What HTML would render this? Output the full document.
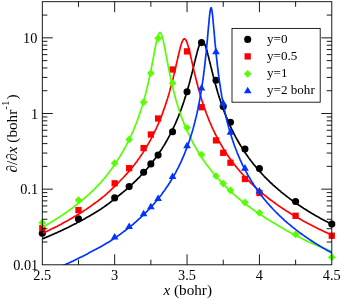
<!DOCTYPE html>
<html><head><meta charset="utf-8"><title>plot</title>
<style>
html,body{margin:0;padding:0;background:#fff;}
svg{display:block;}
text{font-family:"Liberation Serif",serif;fill:#000;}
.t{font-size:14.3px;}
.l{font-size:13.1px;}
.a{font-size:15.2px;}
</style></head><body>
<svg width="342" height="300" viewBox="0 0 342 300">
<rect width="342" height="300" fill="#fff"/>
<defs><clipPath id="c"><rect x="42.30" y="1.70" width="289.50" height="263.10"/></clipPath></defs>
<path clip-path="url(#c)" fill="none" stroke-width="1.7" stroke-linejoin="round" d="M42.3 238.9L43.3 238.5L44.2 238.1L45.2 237.7L46.2 237.3L47.1 236.9L48.1 236.5L49.1 236.1L50.0 235.6L51.0 235.2L52.0 234.8L52.9 234.4L53.9 234.0L54.8 233.5L55.8 233.1L56.8 232.7L57.7 232.2L58.7 231.8L59.7 231.4L60.6 230.9L61.6 230.5L62.6 230.0L63.5 229.6L64.5 229.1L65.5 228.6L66.4 228.2L67.4 227.7L68.4 227.2L69.3 226.8L70.3 226.3L71.3 225.8L72.2 225.3L73.2 224.8L74.1 224.3L75.1 223.9L76.1 223.4L77.0 222.8L78.0 222.3L79.0 221.8L79.9 221.3L80.9 220.8L81.9 220.3L82.8 219.8L83.8 219.2L84.8 218.7L85.7 218.1L86.7 217.6L87.7 217.1L88.6 216.5L89.6 215.9L90.5 215.4L91.5 214.8L92.5 214.2L93.4 213.7L94.4 213.1L95.4 212.5L96.3 211.9L97.3 211.3L98.3 210.7L99.2 210.1L100.2 209.5L101.2 208.9L102.1 208.2L103.1 207.6L104.1 206.9L105.0 206.2L106.0 205.5L107.0 204.8L107.9 204.1L108.9 203.4L109.9 202.7L110.8 201.9L111.8 201.2L112.7 200.4L113.7 199.7L114.7 198.9L115.6 198.1L116.6 197.4L117.6 196.6L118.5 195.8L119.5 195.0L120.5 194.3L121.4 193.5L122.4 192.7L123.4 191.9L124.3 191.1L125.3 190.3L126.3 189.5L127.2 188.6L128.2 187.8L129.2 186.9L130.1 186.1L131.1 185.2L132.0 184.3L133.0 183.4L134.0 182.5L134.9 181.6L135.9 180.7L136.9 179.7L137.8 178.7L138.8 177.8L139.8 176.8L140.7 175.8L141.7 174.7L142.7 173.7L143.6 172.7L144.6 171.6L145.6 170.5L146.5 169.4L147.5 168.3L148.4 167.1L149.4 166.0L150.4 164.8L151.3 163.6L152.3 162.3L153.3 161.1L154.2 159.8L155.2 158.5L156.2 157.2L157.1 155.9L158.1 154.5L159.1 153.1L160.0 151.6L161.0 150.2L162.0 148.7L162.9 147.1L163.9 145.6L164.9 144.0L165.8 142.3L166.8 140.7L167.8 138.9L168.7 137.2L169.7 135.4L170.6 133.5L171.6 131.6L172.6 129.6L173.5 127.6L174.5 125.5L175.5 123.4L176.4 121.2L177.4 118.9L178.4 116.5L179.3 114.1L180.3 111.6L180.5 111.0L180.7 110.6L180.8 110.2L181.0 109.8L181.1 109.4L181.3 109.0L181.4 108.6L181.5 108.2L181.7 107.8L181.8 107.4L182.0 107.0L182.1 106.6L182.2 106.3L182.3 106.2L182.4 105.8L182.6 105.4L182.7 104.9L182.9 104.5L183.0 104.1L183.1 103.7L183.2 103.5L183.3 103.3L183.4 102.8L183.6 102.4L183.7 102.0L183.9 101.5L184.0 101.1L184.2 100.7L184.3 100.2L184.4 99.8L184.6 99.3L184.7 98.9L184.9 98.4L185.0 98.0L185.1 97.7L185.2 97.5L185.3 97.1L185.5 96.6L185.6 96.1L185.7 95.7L185.9 95.2L186.0 94.7L186.1 94.6L186.2 94.3L186.3 93.8L186.5 93.3L186.6 92.8L186.8 92.3L186.9 91.9L187.1 91.4L187.2 90.9L187.3 90.4L187.5 89.9L187.6 89.4L187.8 88.9L187.9 88.4L188.0 88.0L188.1 87.9L188.2 87.4L188.4 86.8L188.5 86.3L188.6 85.8L188.8 85.3L188.9 84.8L189.0 84.6L189.1 84.2L189.2 83.7L189.4 83.2L189.5 82.6L189.7 82.1L189.8 81.6L189.9 81.0L190.1 80.5L190.2 79.9L190.4 79.4L190.5 78.8L190.7 78.3L190.8 77.7L190.9 77.3L191.0 77.2L191.1 76.6L191.2 76.0L191.4 75.5L191.5 74.9L191.7 74.3L191.8 73.7L191.9 73.6L192.0 73.2L192.1 72.6L192.3 72.0L192.4 71.4L192.6 70.9L192.7 70.3L192.8 69.7L193.0 69.1L193.1 68.5L193.3 67.9L193.4 67.3L193.6 66.7L193.7 66.1L193.8 65.7L193.9 65.5L194.0 64.9L194.1 64.3L194.3 63.8L194.4 63.2L194.6 62.6L194.7 62.0L194.8 61.8L194.9 61.4L195.0 60.8L195.2 60.2L195.3 59.6L195.4 59.0L195.6 58.4L195.7 57.8L195.9 57.3L196.0 56.7L196.2 56.1L196.3 55.5L196.5 55.0L196.6 54.4L196.7 54.0L196.7 53.8L196.9 53.3L197.0 52.7L197.2 52.2L197.3 51.7L197.5 51.1L197.6 50.6L197.7 50.4L197.8 50.1L197.9 49.6L198.1 49.1L198.2 48.6L198.3 48.1L198.5 47.7L198.6 47.2L198.8 46.8L198.9 46.4L199.1 45.9L199.2 45.5L199.4 45.2L199.5 44.8L199.6 44.5L199.6 44.4L199.8 44.1L199.9 43.8L200.1 43.4L200.2 43.1L200.4 42.9L200.5 42.6L200.6 42.5L200.7 42.4L200.8 42.2L200.9 42.0L201.1 41.8L201.2 41.6L201.4 41.5L201.5 41.4L201.7 41.3L201.8 41.2L202.0 41.1L202.1 41.1L202.2 41.1L202.4 41.1L202.5 41.1L202.5 41.1L202.7 41.2L202.8 41.3L203.0 41.4L203.1 41.5L203.3 41.6L203.4 41.8L203.5 41.8L203.6 42.0L203.7 42.2L203.8 42.4L204.0 42.6L204.1 42.9L204.3 43.1L204.4 43.4L204.6 43.8L204.7 44.1L204.9 44.4L205.0 44.8L205.1 45.2L205.3 45.5L205.4 45.8L205.4 45.9L205.6 46.4L205.7 46.8L205.9 47.2L206.0 47.7L206.2 48.1L206.3 48.6L206.3 48.8L206.4 49.1L206.6 49.6L206.7 50.1L206.9 50.6L207.0 51.1L207.2 51.7L207.3 52.2L207.5 52.7L207.6 53.3L207.7 53.8L207.9 54.4L208.0 55.0L208.2 55.5L208.3 55.9L208.3 56.1L208.5 56.7L208.6 57.3L208.8 57.8L208.9 58.4L209.1 59.0L209.2 59.6L209.2 59.8L209.3 60.2L209.5 60.8L209.6 61.4L209.8 62.0L209.9 62.6L210.1 63.2L210.2 63.8L210.4 64.3L210.5 64.9L210.6 65.5L210.8 66.1L210.9 66.7L211.1 67.3L211.2 67.7L211.2 67.9L211.4 68.5L211.5 69.1L211.7 69.7L211.8 70.3L211.9 70.9L212.1 71.4L212.1 71.6L212.2 72.0L212.4 72.6L212.5 73.2L212.7 73.7L212.8 74.3L213.0 74.9L213.1 75.5L213.2 76.0L213.4 76.6L213.5 77.2L213.7 77.7L213.8 78.3L214.0 78.8L214.1 79.2L214.1 79.4L214.3 79.9L214.4 80.5L214.6 81.0L214.7 81.6L214.8 82.1L215.0 82.6L215.0 82.8L215.1 83.2L215.3 83.7L215.4 84.2L215.6 84.8L215.7 85.3L215.9 85.8L216.0 86.3L216.1 86.8L216.3 87.4L216.4 87.9L216.6 88.4L216.7 88.9L216.9 89.4L217.0 89.7L217.0 89.9L217.2 90.4L217.3 90.9L217.4 91.4L217.6 91.9L217.7 92.3L217.9 92.8L217.9 93.0L218.0 93.3L218.2 93.8L218.3 94.3L218.5 94.7L218.6 95.2L218.8 95.7L218.9 96.1L219.0 96.6L219.2 97.1L219.3 97.5L219.5 98.0L219.6 98.4L219.8 98.9L219.9 99.2L219.9 99.3L220.1 99.8L220.2 100.2L220.3 100.7L220.5 101.1L220.6 101.5L220.8 102.0L220.8 102.1L220.9 102.4L221.1 102.8L221.2 103.3L221.4 103.7L221.5 104.1L221.6 104.5L221.8 104.9L221.9 105.4L222.1 105.8L222.2 106.2L222.4 106.6L222.5 107.0L222.7 107.4L222.8 107.7L222.8 107.8L222.9 108.2L223.1 108.6L223.2 109.0L223.4 109.4L223.5 109.8L223.7 110.2L223.7 110.3L223.8 110.6L224.0 111.0L224.7 112.9L225.7 115.3L226.6 117.7L227.6 120.0L228.5 122.3L229.5 124.4L230.5 126.6L231.4 128.6L232.4 130.6L233.4 132.5L234.3 134.4L235.3 136.3L236.3 138.1L237.2 139.8L238.2 141.5L239.2 143.2L240.1 144.8L241.1 146.4L242.1 147.9L243.0 149.4L244.0 150.9L244.9 152.4L245.9 153.8L246.9 155.2L247.8 156.5L248.8 157.9L249.8 159.2L250.7 160.5L251.7 161.7L252.7 163.0L253.6 164.2L254.6 165.4L255.6 166.5L256.5 167.7L257.5 168.8L258.5 169.9L259.4 171.0L260.4 172.1L261.4 173.2L262.3 174.2L263.3 175.3L264.2 176.3L265.2 177.3L266.2 178.3L267.1 179.2L268.1 180.2L269.1 181.1L270.0 182.1L271.0 183.0L272.0 183.9L272.9 184.8L273.9 185.6L274.9 186.5L275.8 187.4L276.8 188.2L277.8 189.1L278.7 189.9L279.7 190.7L280.7 191.5L281.6 192.3L282.6 193.1L283.6 193.9L284.5 194.6L285.5 195.4L286.4 196.1L287.4 196.9L288.4 197.6L289.3 198.3L290.3 199.1L291.3 199.8L292.2 200.5L293.2 201.2L294.2 201.9L295.1 202.5L296.1 203.2L297.1 203.9L298.0 204.5L299.0 205.2L300.0 205.8L300.9 206.5L301.9 207.1L302.8 207.7L303.8 208.4L304.8 209.0L305.7 209.6L306.7 210.2L307.7 210.8L308.6 211.4L309.6 212.0L310.6 212.6L311.5 213.2L312.5 213.7L313.5 214.3L314.4 214.9L315.4 215.4L316.4 216.0L317.3 216.5L318.3 217.1L319.3 217.6L320.2 218.2L321.2 218.7L322.1 219.2L323.1 219.7L324.1 220.3L325.0 220.8L326.0 221.3L327.0 221.8L327.9 222.3L328.9 222.8L329.9 223.3L330.8 223.8L331.8 224.3" stroke="#000000"/>
<g>
<circle cx="42.30" cy="233.20" r="3.55" fill="#000000"/>
<circle cx="78.49" cy="218.90" r="3.55" fill="#000000"/>
<circle cx="114.67" cy="197.90" r="3.55" fill="#000000"/>
<circle cx="129.15" cy="186.60" r="3.55" fill="#000000"/>
<circle cx="143.63" cy="172.20" r="3.55" fill="#000000"/>
<circle cx="150.86" cy="163.90" r="3.55" fill="#000000"/>
<circle cx="158.10" cy="155.10" r="3.55" fill="#000000"/>
<circle cx="172.57" cy="131.70" r="3.55" fill="#000000"/>
<circle cx="187.05" cy="91.80" r="3.55" fill="#000000"/>
<circle cx="201.53" cy="42.60" r="3.55" fill="#000000"/>
<circle cx="216.00" cy="80.30" r="3.55" fill="#000000"/>
<circle cx="223.24" cy="106.60" r="3.55" fill="#000000"/>
<circle cx="230.47" cy="122.20" r="3.55" fill="#000000"/>
<circle cx="244.95" cy="149.00" r="3.55" fill="#000000"/>
<circle cx="259.43" cy="168.60" r="3.55" fill="#000000"/>
<circle cx="295.61" cy="201.50" r="3.55" fill="#000000"/>
<circle cx="331.80" cy="224.10" r="3.55" fill="#000000"/>
</g>
<path clip-path="url(#c)" fill="none" stroke-width="1.7" stroke-linejoin="round" d="M42.3 233.4L43.3 233.0L44.2 232.5L45.2 232.1L46.2 231.6L47.1 231.2L48.1 230.7L49.1 230.2L50.0 229.8L51.0 229.3L52.0 228.8L52.9 228.3L53.9 227.9L54.8 227.4L55.8 226.9L56.8 226.4L57.7 225.9L58.7 225.4L59.7 224.9L60.6 224.4L61.6 223.9L62.6 223.3L63.5 222.8L64.5 222.3L65.5 221.8L66.4 221.2L67.4 220.7L68.4 220.2L69.3 219.6L70.3 219.1L71.3 218.5L72.2 217.9L73.2 217.4L74.1 216.8L75.1 216.2L76.1 215.7L77.0 215.1L78.0 214.5L79.0 213.9L79.9 213.3L80.9 212.7L81.9 212.1L82.8 211.5L83.8 210.8L84.8 210.2L85.7 209.6L86.7 208.9L87.7 208.3L88.6 207.6L89.6 207.0L90.5 206.3L91.5 205.6L92.5 204.9L93.4 204.2L94.4 203.5L95.4 202.8L96.3 202.1L97.3 201.4L98.3 200.7L99.2 200.0L100.2 199.2L101.2 198.5L102.1 197.7L103.1 196.9L104.1 196.1L105.0 195.3L106.0 194.4L107.0 193.6L107.9 192.7L108.9 191.8L109.9 191.0L110.8 190.1L111.8 189.1L112.7 188.2L113.7 187.3L114.7 186.4L115.6 185.4L116.6 184.4L117.6 183.5L118.5 182.5L119.5 181.5L120.5 180.5L121.4 179.5L122.4 178.5L123.4 177.5L124.3 176.5L125.3 175.4L126.3 174.4L127.2 173.3L128.2 172.2L129.2 171.1L130.1 169.9L131.1 168.8L132.0 167.6L133.0 166.4L134.0 165.2L134.9 164.0L135.9 162.7L136.9 161.4L137.8 160.1L138.8 158.8L139.8 157.4L140.7 156.0L141.7 154.6L142.7 153.1L143.6 151.6L144.6 150.1L145.6 148.6L146.5 147.0L147.5 145.3L148.4 143.7L149.4 142.0L150.4 140.2L151.3 138.4L152.3 136.6L153.3 134.7L154.2 132.7L155.2 130.7L156.2 128.6L157.1 126.5L158.1 124.3L159.1 122.0L160.0 119.7L161.0 117.3L162.0 114.8L162.7 112.7L162.9 112.3L162.9 112.2L163.0 111.9L163.2 111.5L163.3 111.1L163.5 110.7L163.6 110.3L163.7 109.9L163.9 109.5L164.0 109.1L164.2 108.7L164.3 108.3L164.5 107.9L164.6 107.5L164.8 107.0L164.9 106.7L164.9 106.6L165.0 106.2L165.2 105.8L165.3 105.3L165.5 104.9L165.6 104.5L165.8 104.0L165.8 103.9L165.9 103.6L166.1 103.1L166.2 102.7L166.4 102.2L166.5 101.8L166.6 101.3L166.8 100.9L166.9 100.4L167.1 100.0L167.2 99.5L167.4 99.0L167.5 98.6L167.7 98.1L167.8 97.8L167.8 97.6L167.9 97.1L168.1 96.7L168.2 96.2L168.4 95.7L168.5 95.2L168.7 94.7L168.7 94.5L168.8 94.2L169.0 93.7L169.1 93.2L169.2 92.7L169.4 92.2L169.5 91.7L169.7 91.2L169.8 90.7L170.0 90.2L170.1 89.6L170.3 89.1L170.4 88.6L170.5 88.1L170.6 87.7L170.7 87.5L170.8 87.0L171.0 86.4L171.1 85.9L171.3 85.4L171.4 84.8L171.6 84.3L171.6 84.1L171.7 83.7L171.9 83.1L172.0 82.6L172.1 82.0L172.3 81.5L172.4 80.9L172.6 80.3L172.7 79.7L172.9 79.2L173.0 78.6L173.2 78.0L173.3 77.4L173.4 76.8L173.5 76.4L173.6 76.2L173.7 75.6L173.9 75.0L174.0 74.4L174.2 73.8L174.3 73.2L174.5 72.6L174.5 72.4L174.6 72.0L174.7 71.4L174.9 70.7L175.0 70.1L175.2 69.5L175.3 68.9L175.5 68.3L175.6 67.6L175.8 67.0L175.9 66.4L176.0 65.7L176.2 65.1L176.3 64.5L176.4 64.0L176.5 63.8L176.6 63.2L176.8 62.6L176.9 61.9L177.1 61.3L177.2 60.6L177.4 60.0L177.4 59.8L177.5 59.4L177.6 58.7L177.8 58.1L177.9 57.5L178.1 56.8L178.2 56.2L178.4 55.6L178.5 54.9L178.7 54.3L178.8 53.7L178.9 53.1L179.1 52.5L179.2 51.9L179.3 51.5L179.4 51.3L179.5 50.7L179.7 50.1L179.8 49.5L180.0 49.0L180.1 48.4L180.2 47.9L180.3 47.7L180.4 47.3L180.5 46.8L180.7 46.3L180.8 45.8L181.0 45.3L181.1 44.8L181.3 44.3L181.4 43.9L181.5 43.4L181.7 43.0L181.8 42.6L182.0 42.2L182.1 41.8L182.2 41.6L182.3 41.5L182.4 41.2L182.6 40.9L182.7 40.6L182.9 40.3L183.0 40.0L183.1 39.8L183.2 39.7L183.3 39.6L183.4 39.4L183.6 39.3L183.7 39.1L183.9 39.0L184.0 38.9L184.2 38.9L184.3 38.8L184.4 38.8L184.6 38.8L184.7 38.9L184.9 38.9L185.0 39.0L185.1 39.1L185.2 39.1L185.3 39.3L185.5 39.4L185.6 39.6L185.7 39.8L185.9 40.0L186.0 40.3L186.1 40.4L186.2 40.6L186.3 40.9L186.5 41.2L186.6 41.5L186.8 41.8L186.9 42.2L187.1 42.6L187.2 43.0L187.3 43.4L187.5 43.9L187.6 44.3L187.8 44.8L187.9 45.3L188.0 45.6L188.1 45.8L188.2 46.3L188.4 46.8L188.5 47.3L188.6 47.9L188.8 48.4L188.9 49.0L189.0 49.2L189.1 49.5L189.2 50.1L189.4 50.7L189.5 51.3L189.7 51.9L189.8 52.5L189.9 53.1L190.1 53.7L190.2 54.3L190.4 54.9L190.5 55.6L190.7 56.2L190.8 56.8L190.9 57.3L191.0 57.5L191.1 58.1L191.2 58.7L191.4 59.4L191.5 60.0L191.7 60.6L191.8 61.3L191.9 61.5L192.0 61.9L192.1 62.6L192.3 63.2L192.4 63.8L192.6 64.5L192.7 65.1L192.8 65.7L193.0 66.4L193.1 67.0L193.3 67.6L193.4 68.3L193.6 68.9L193.7 69.5L193.8 69.9L193.9 70.1L194.0 70.7L194.1 71.4L194.3 72.0L194.4 72.6L194.6 73.2L194.7 73.8L194.8 74.0L194.9 74.4L195.0 75.0L195.2 75.6L195.3 76.2L195.4 76.8L195.6 77.4L195.7 78.0L195.9 78.6L196.0 79.2L196.2 79.7L196.3 80.3L196.5 80.9L196.6 81.5L196.7 81.8L196.7 82.0L196.9 82.6L197.0 83.1L197.2 83.7L197.3 84.3L197.5 84.8L197.6 85.4L197.7 85.5L197.8 85.9L197.9 86.4L198.1 87.0L198.2 87.5L198.3 88.1L198.5 88.6L198.6 89.1L198.8 89.6L198.9 90.2L199.1 90.7L199.2 91.2L199.4 91.7L199.5 92.2L199.6 92.5L199.6 92.7L199.8 93.2L199.9 93.7L200.1 94.2L200.2 94.7L200.4 95.2L200.5 95.7L200.6 95.8L200.7 96.2L200.8 96.7L200.9 97.1L201.1 97.6L201.2 98.1L201.4 98.6L201.5 99.0L201.7 99.5L201.8 100.0L202.0 100.4L202.1 100.9L202.2 101.3L202.4 101.8L202.5 102.1L202.5 102.2L202.7 102.7L202.8 103.1L203.0 103.6L203.1 104.0L203.3 104.5L203.4 104.9L203.5 105.0L203.6 105.3L203.7 105.8L203.8 106.2L204.0 106.6L204.1 107.0L204.3 107.5L204.4 107.9L204.6 108.3L204.7 108.7L204.9 109.1L205.0 109.5L205.1 109.9L205.3 110.3L205.4 110.6L205.4 110.7L205.6 111.1L205.7 111.5L205.9 111.9L206.0 112.3L206.2 112.7L206.3 113.2L207.3 115.8L208.3 118.3L209.2 120.6L210.2 123.0L211.2 125.2L212.1 127.4L213.1 129.5L214.1 131.5L215.0 133.5L216.0 135.4L217.0 137.3L217.9 139.1L218.9 140.9L219.9 142.6L220.8 144.3L221.8 146.0L222.8 147.6L223.7 149.2L224.7 150.7L225.7 152.2L226.6 153.7L227.6 155.1L228.5 156.6L229.5 157.9L230.5 159.3L231.4 160.6L232.4 161.9L233.4 163.2L234.3 164.5L235.3 165.7L236.3 166.9L237.2 168.1L238.2 169.3L239.2 170.4L240.1 171.5L241.1 172.6L242.1 173.7L243.0 174.8L244.0 175.9L244.9 176.9L245.9 177.9L246.9 178.9L247.8 179.9L248.8 180.9L249.8 181.9L250.7 182.8L251.7 183.8L252.7 184.7L253.6 185.6L254.6 186.5L255.6 187.4L256.5 188.3L257.5 189.1L258.5 190.0L259.4 190.8L260.4 191.7L261.4 192.5L262.3 193.3L263.3 194.1L264.2 194.9L265.2 195.7L266.2 196.4L267.1 197.2L268.1 198.0L269.1 198.7L270.0 199.5L271.0 200.2L272.0 200.9L272.9 201.6L273.9 202.3L274.9 203.0L275.8 203.7L276.8 204.4L277.8 205.1L278.7 205.8L279.7 206.4L280.7 207.1L281.6 207.7L282.6 208.4L283.6 209.0L284.5 209.7L285.5 210.3L286.4 210.9L287.4 211.5L288.4 212.1L289.3 212.7L290.3 213.3L291.3 213.9L292.2 214.5L293.2 215.1L294.2 215.7L295.1 216.2L296.1 216.8L297.1 217.4L298.0 217.9L299.0 218.5L300.0 219.0L300.9 219.6L301.9 220.1L302.8 220.7L303.8 221.2L304.8 221.7L305.7 222.2L306.7 222.8L307.7 223.3L308.6 223.8L309.6 224.3L310.6 224.8L311.5 225.3L312.5 225.8L313.5 226.3L314.4 226.8L315.4 227.2L316.4 227.7L317.3 228.2L318.3 228.7L319.3 229.2L320.2 229.6L321.2 230.1L322.1 230.5L323.1 231.0L324.1 231.5L325.0 231.9L326.0 232.4L327.0 232.8L327.9 233.2L328.9 233.7L329.9 234.1L330.8 234.6L331.8 235.0" stroke="#ff0000"/>
<g>
<rect x="39.15" y="225.05" width="6.3" height="6.3" fill="#ff0000"/>
<rect x="75.34" y="206.95" width="6.3" height="6.3" fill="#ff0000"/>
<rect x="111.52" y="180.15" width="6.3" height="6.3" fill="#ff0000"/>
<rect x="126.00" y="165.05" width="6.3" height="6.3" fill="#ff0000"/>
<rect x="140.48" y="144.95" width="6.3" height="6.3" fill="#ff0000"/>
<rect x="147.71" y="131.35" width="6.3" height="6.3" fill="#ff0000"/>
<rect x="154.95" y="115.35" width="6.3" height="6.3" fill="#ff0000"/>
<rect x="169.42" y="66.35" width="6.3" height="6.3" fill="#ff0000"/>
<rect x="183.90" y="48.25" width="6.3" height="6.3" fill="#ff0000"/>
<rect x="198.38" y="104.05" width="6.3" height="6.3" fill="#ff0000"/>
<rect x="212.85" y="137.25" width="6.3" height="6.3" fill="#ff0000"/>
<rect x="220.09" y="149.65" width="6.3" height="6.3" fill="#ff0000"/>
<rect x="227.32" y="159.55" width="6.3" height="6.3" fill="#ff0000"/>
<rect x="241.80" y="175.85" width="6.3" height="6.3" fill="#ff0000"/>
<rect x="256.28" y="189.85" width="6.3" height="6.3" fill="#ff0000"/>
<rect x="292.46" y="212.65" width="6.3" height="6.3" fill="#ff0000"/>
<rect x="328.65" y="232.55" width="6.3" height="6.3" fill="#ff0000"/>
</g>
<path clip-path="url(#c)" fill="none" stroke-width="1.7" stroke-linejoin="round" d="M42.3 227.3L43.3 226.8L44.2 226.2L45.2 225.7L46.2 225.1L47.1 224.6L48.1 224.0L49.1 223.4L50.0 222.9L51.0 222.3L52.0 221.7L52.9 221.1L53.9 220.5L54.8 219.9L55.8 219.3L56.8 218.7L57.7 218.1L58.7 217.5L59.7 216.9L60.6 216.2L61.6 215.6L62.6 214.9L63.5 214.3L64.5 213.6L65.5 213.0L66.4 212.3L67.4 211.6L68.4 210.9L69.3 210.2L70.3 209.5L71.3 208.8L72.2 208.1L73.2 207.4L74.1 206.7L75.1 205.9L76.1 205.2L77.0 204.4L78.0 203.7L79.0 202.9L79.9 202.1L80.9 201.3L81.9 200.5L82.8 199.7L83.8 198.9L84.8 198.0L85.7 197.2L86.7 196.3L87.7 195.5L88.6 194.6L89.6 193.7L90.5 192.8L91.5 191.9L92.5 191.0L93.4 190.0L94.4 189.1L95.4 188.1L96.3 187.1L97.3 186.2L98.3 185.1L99.2 184.1L100.2 183.1L101.2 182.0L102.1 180.9L103.1 179.8L104.1 178.7L105.0 177.5L106.0 176.3L107.0 175.1L107.9 173.9L108.9 172.6L109.9 171.3L110.8 170.0L111.8 168.7L112.7 167.3L113.7 165.9L114.7 164.5L115.6 163.1L116.6 161.6L117.6 160.1L118.5 158.6L119.5 157.1L120.5 155.5L121.4 153.9L122.4 152.3L123.4 150.6L124.3 148.9L125.3 147.2L126.3 145.4L127.2 143.5L128.2 141.7L129.2 139.7L130.1 137.7L131.1 135.6L132.0 133.5L133.0 131.3L134.0 129.0L134.9 126.7L135.9 124.2L136.9 121.7L137.8 119.1L138.3 117.9L138.4 117.5L138.6 117.1L138.7 116.7L138.8 116.4L138.8 116.3L139.0 115.9L139.1 115.4L139.3 115.0L139.4 114.6L139.6 114.2L139.7 113.7L139.8 113.6L139.9 113.3L140.0 112.9L140.2 112.4L140.3 112.0L140.4 111.6L140.6 111.1L140.7 110.7L140.9 110.2L141.0 109.8L141.2 109.3L141.3 108.9L141.5 108.4L141.6 107.9L141.7 107.6L141.7 107.5L141.9 107.0L142.0 106.5L142.2 106.0L142.3 105.6L142.5 105.1L142.6 104.6L142.7 104.4L142.8 104.1L142.9 103.6L143.0 103.1L143.2 102.6L143.3 102.1L143.5 101.6L143.6 101.1L143.8 100.6L143.9 100.1L144.1 99.6L144.2 99.0L144.3 98.5L144.5 98.0L144.6 97.6L144.6 97.5L144.8 96.9L144.9 96.4L145.1 95.8L145.2 95.3L145.4 94.7L145.5 94.2L145.6 94.0L145.7 93.6L145.8 93.1L145.9 92.5L146.1 91.9L146.2 91.4L146.4 90.8L146.5 90.2L146.7 89.6L146.8 89.0L147.0 88.4L147.1 87.8L147.2 87.2L147.4 86.6L147.5 86.2L147.5 86.0L147.7 85.4L147.8 84.8L148.0 84.1L148.1 83.5L148.3 82.9L148.4 82.2L148.4 82.0L148.5 81.6L148.7 81.0L148.8 80.3L149.0 79.6L149.1 79.0L149.3 78.3L149.4 77.6L149.6 77.0L149.7 76.3L149.8 75.6L150.0 74.9L150.1 74.2L150.3 73.5L150.4 73.1L150.4 72.8L150.6 72.1L150.7 71.4L150.9 70.7L151.0 70.0L151.2 69.3L151.3 68.5L151.3 68.3L151.4 67.8L151.6 67.1L151.7 66.3L151.9 65.6L152.0 64.8L152.2 64.1L152.3 63.3L152.5 62.6L152.6 61.8L152.7 61.1L152.9 60.3L153.0 59.5L153.2 58.8L153.3 58.2L153.3 58.0L153.5 57.2L153.6 56.4L153.8 55.7L153.9 54.9L154.0 54.1L154.2 53.4L154.2 53.1L154.3 52.6L154.5 51.8L154.6 51.0L154.8 50.3L154.9 49.5L155.1 48.8L155.2 48.0L155.3 47.3L155.5 46.5L155.6 45.8L155.8 45.1L155.9 44.4L156.1 43.6L156.2 43.2L156.2 43.0L156.4 42.3L156.5 41.6L156.7 40.9L156.8 40.3L156.9 39.7L157.1 39.1L157.1 38.9L157.2 38.5L157.4 37.9L157.5 37.4L157.7 36.9L157.8 36.4L158.0 35.9L158.1 35.4L158.2 35.0L158.4 34.6L158.5 34.3L158.7 34.0L158.8 33.7L159.0 33.4L159.1 33.2L159.1 33.2L159.3 33.0L159.4 32.8L159.5 32.7L159.7 32.6L159.8 32.5L160.0 32.5L160.0 32.5L160.1 32.5L160.3 32.6L160.4 32.7L160.6 32.8L160.7 33.0L160.9 33.2L161.0 33.4L161.1 33.7L161.3 34.0L161.4 34.3L161.6 34.6L161.7 35.0L161.9 35.4L162.0 35.7L162.0 35.9L162.2 36.4L162.3 36.9L162.4 37.4L162.6 37.9L162.7 38.5L162.9 39.1L162.9 39.3L163.0 39.7L163.2 40.3L163.3 40.9L163.5 41.6L163.6 42.3L163.7 43.0L163.9 43.6L164.0 44.4L164.2 45.1L164.3 45.8L164.5 46.5L164.6 47.3L164.8 48.0L164.9 48.5L164.9 48.8L165.0 49.5L165.2 50.3L165.3 51.0L165.5 51.8L165.6 52.6L165.8 53.4L165.8 53.6L165.9 54.1L166.1 54.9L166.2 55.7L166.4 56.4L166.5 57.2L166.6 58.0L166.8 58.8L166.9 59.5L167.1 60.3L167.2 61.1L167.4 61.8L167.5 62.6L167.7 63.3L167.8 63.8L167.8 64.1L167.9 64.8L168.1 65.6L168.2 66.3L168.4 67.1L168.5 67.8L168.7 68.5L168.7 68.8L168.8 69.3L169.0 70.0L169.1 70.7L169.2 71.4L169.4 72.1L169.5 72.8L169.7 73.5L169.8 74.2L170.0 74.9L170.1 75.6L170.3 76.3L170.4 77.0L170.5 77.6L170.6 78.1L170.7 78.3L170.8 79.0L171.0 79.6L171.1 80.3L171.3 81.0L171.4 81.6L171.6 82.2L171.6 82.5L171.7 82.9L171.9 83.5L172.0 84.1L172.1 84.8L172.3 85.4L172.4 86.0L172.6 86.6L172.7 87.2L172.9 87.8L173.0 88.4L173.2 89.0L173.3 89.6L173.4 90.2L173.5 90.6L173.6 90.8L173.7 91.3L173.9 91.9L174.0 92.5L174.2 93.0L174.3 93.6L174.5 94.2L174.5 94.3L174.6 94.7L174.7 95.3L174.9 95.8L175.0 96.3L175.2 96.9L175.3 97.4L175.5 97.9L175.6 98.5L175.8 99.0L175.9 99.5L176.0 100.0L176.2 100.5L176.3 101.0L176.4 101.3L176.5 101.5L176.6 102.0L176.8 102.5L176.9 103.0L177.1 103.5L177.2 104.0L177.4 104.4L177.4 104.6L177.5 104.9L177.6 105.4L177.8 105.9L177.9 106.3L178.1 106.8L178.2 107.2L178.4 107.7L178.5 108.2L178.7 108.6L178.8 109.1L178.9 109.5L179.1 109.9L179.2 110.4L179.3 110.7L179.4 110.8L179.5 111.2L179.7 111.7L179.8 112.1L180.0 112.5L180.1 112.9L180.2 113.4L180.3 113.5L180.4 113.8L180.5 114.2L180.7 114.6L180.8 115.0L181.0 115.4L181.1 115.8L181.3 116.2L181.4 116.6L181.5 117.0L181.7 117.4L182.2 118.8L183.2 121.4L184.2 123.8L185.1 126.1L186.1 128.4L187.1 130.6L188.0 132.7L189.0 134.7L189.9 136.7L190.9 138.7L191.9 140.6L192.8 142.5L193.8 144.3L194.8 146.1L195.7 147.8L196.7 149.5L197.7 151.1L198.6 152.7L199.6 154.3L200.6 155.8L201.5 157.3L202.5 158.7L203.5 160.2L204.4 161.5L205.4 162.9L206.3 164.2L207.3 165.5L208.3 166.8L209.2 168.0L210.2 169.3L211.2 170.5L212.1 171.7L213.1 172.8L214.1 174.0L215.0 175.1L216.0 176.2L217.0 177.4L217.9 178.5L218.9 179.5L219.9 180.6L220.8 181.6L221.8 182.7L222.8 183.7L223.7 184.7L224.7 185.6L225.7 186.6L226.6 187.6L227.6 188.5L228.5 189.4L229.5 190.4L230.5 191.3L231.4 192.2L232.4 193.0L233.4 193.9L234.3 194.8L235.3 195.6L236.3 196.4L237.2 197.3L238.2 198.1L239.2 198.9L240.1 199.7L241.1 200.5L242.1 201.3L243.0 202.0L244.0 202.8L244.9 203.6L245.9 204.3L246.9 205.0L247.8 205.8L248.8 206.5L249.8 207.2L250.7 207.9L251.7 208.6L252.7 209.3L253.6 210.0L254.6 210.6L255.6 211.3L256.5 212.0L257.5 212.6L258.5 213.3L259.4 213.9L260.4 214.5L261.4 215.2L262.3 215.8L263.3 216.4L264.2 217.0L265.2 217.7L266.2 218.3L267.1 218.9L268.1 219.5L269.1 220.1L270.0 220.7L271.0 221.3L272.0 221.9L272.9 222.4L273.9 223.0L274.9 223.6L275.8 224.1L276.8 224.7L277.8 225.3L278.7 225.9L279.7 226.5L280.7 227.0L281.6 227.6L282.6 228.2L283.6 228.8L284.5 229.3L285.5 229.9L286.4 230.4L287.4 230.9L288.4 231.4L289.3 231.9L290.3 232.4L291.3 232.9L292.2 233.4L293.2 234.0L294.2 234.5L295.1 235.0L296.1 235.5L297.1 236.0L298.0 236.5L299.0 237.0L300.0 237.5L300.9 238.0L301.9 238.5L302.8 239.0L303.8 239.5L304.8 240.0L305.7 240.5L306.7 240.9L307.7 241.4L308.6 241.8L309.6 242.3L310.6 242.7L311.5 243.1L312.5 243.5L313.5 243.9L314.4 244.3L315.4 244.8L316.4 245.2L317.3 245.6L318.3 246.0L319.3 246.4L320.2 246.8L321.2 247.2L322.1 247.5L323.1 247.9L324.1 248.3L325.0 248.7L326.0 249.1L327.0 249.5L327.9 249.9L328.9 250.2L329.9 250.6L330.8 251.0L331.8 251.3" stroke="#55ff00"/>
<g>
<path d="M42.30 218.85L46.15 222.70L42.30 226.55L38.45 222.70Z" fill="#55ff00"/>
<path d="M78.49 196.25L82.34 200.10L78.49 203.95L74.64 200.10Z" fill="#55ff00"/>
<path d="M114.67 159.35L118.52 163.20L114.67 167.05L110.83 163.20Z" fill="#55ff00"/>
<path d="M129.15 135.75L133.00 139.60L129.15 143.45L125.30 139.60Z" fill="#55ff00"/>
<path d="M143.63 98.35L147.48 102.20L143.63 106.05L139.78 102.20Z" fill="#55ff00"/>
<path d="M150.86 69.35L154.71 73.20L150.86 77.05L147.01 73.20Z" fill="#55ff00"/>
<path d="M158.10 34.45L161.95 38.30L158.10 42.15L154.25 38.30Z" fill="#55ff00"/>
<path d="M172.57 79.35L176.42 83.20L172.57 87.05L168.72 83.20Z" fill="#55ff00"/>
<path d="M187.05 123.95L190.90 127.80L187.05 131.65L183.20 127.80Z" fill="#55ff00"/>
<path d="M201.53 150.85L205.38 154.70L201.53 158.55L197.68 154.70Z" fill="#55ff00"/>
<path d="M216.00 172.15L219.85 176.00L216.00 179.85L212.15 176.00Z" fill="#55ff00"/>
<path d="M223.24 179.75L227.09 183.60L223.24 187.45L219.39 183.60Z" fill="#55ff00"/>
<path d="M230.47 186.45L234.32 190.30L230.47 194.15L226.62 190.30Z" fill="#55ff00"/>
<path d="M244.95 198.55L248.80 202.40L244.95 206.25L241.10 202.40Z" fill="#55ff00"/>
<path d="M259.43 208.95L263.28 212.80L259.43 216.65L255.58 212.80Z" fill="#55ff00"/>
<path d="M295.61 230.55L299.46 234.40L295.61 238.25L291.76 234.40Z" fill="#55ff00"/>
<path d="M331.80 253.35L335.65 257.20L331.80 261.05L327.95 257.20Z" fill="#55ff00"/>
</g>
<path clip-path="url(#c)" fill="none" stroke-width="1.7" stroke-linejoin="round" d="M42.3 270.8L43.3 270.8L44.2 270.8L45.2 270.8L46.2 270.8L47.1 270.8L48.1 270.8L49.1 270.8L50.0 270.8L51.0 270.6L52.0 270.2L52.9 269.8L53.9 269.4L54.8 269.0L55.8 268.6L56.8 268.2L57.7 267.8L58.7 267.4L59.7 267.0L60.6 266.6L61.6 266.2L62.6 265.7L63.5 265.3L64.5 264.9L65.5 264.5L66.4 264.0L67.4 263.6L68.4 263.2L69.3 262.7L70.3 262.3L71.3 261.8L72.2 261.4L73.2 260.9L74.1 260.4L75.1 260.0L76.1 259.5L77.0 259.1L78.0 258.6L79.0 258.1L79.9 257.6L80.9 257.1L81.9 256.7L82.8 256.2L83.8 255.7L84.8 255.2L85.7 254.7L86.7 254.2L87.7 253.7L88.6 253.1L89.6 252.6L90.5 252.1L91.5 251.6L92.5 251.1L93.4 250.6L94.4 250.1L95.4 249.6L96.3 249.1L97.3 248.5L98.3 248.0L99.2 247.5L100.2 247.0L101.2 246.4L102.1 245.9L103.1 245.3L104.1 244.8L105.0 244.2L106.0 243.6L107.0 243.1L107.9 242.5L108.9 241.9L109.9 241.3L110.8 240.7L111.8 240.0L112.7 239.4L113.7 238.8L114.7 238.1L115.6 237.5L116.6 236.8L117.6 236.1L118.5 235.4L119.5 234.8L120.5 234.1L121.4 233.4L122.4 232.6L123.4 231.9L124.3 231.2L125.3 230.5L126.3 229.7L127.2 229.0L128.2 228.2L129.2 227.4L130.1 226.7L131.1 225.9L132.0 225.1L133.0 224.3L134.0 223.5L134.9 222.6L135.9 221.8L136.9 220.9L137.8 220.1L138.8 219.2L139.8 218.3L140.7 217.4L141.7 216.5L142.7 215.6L143.6 214.7L144.6 213.7L145.6 212.8L146.5 211.8L147.5 210.8L148.4 209.8L149.4 208.8L150.4 207.8L151.3 206.7L152.3 205.6L153.3 204.6L154.2 203.5L155.2 202.3L156.2 201.2L157.1 200.0L158.1 198.9L159.1 197.6L160.0 196.4L161.0 195.2L162.0 193.9L162.9 192.6L163.9 191.3L164.9 189.9L165.8 188.5L166.8 187.1L167.8 185.7L168.7 184.2L169.7 182.7L170.6 181.2L171.6 179.6L172.6 178.0L173.5 176.3L174.5 174.6L175.5 172.9L176.4 171.1L177.4 169.2L178.4 167.3L179.3 165.4L180.3 163.4L181.3 161.3L182.2 159.2L183.2 156.9L184.2 154.7L185.1 152.3L186.1 149.8L187.1 147.3L188.0 144.6L189.0 141.9L189.4 140.7L189.5 140.3L189.7 139.9L189.8 139.4L189.9 139.0L190.1 138.5L190.2 138.1L190.4 137.6L190.5 137.2L190.7 136.7L190.8 136.3L190.9 136.0L191.0 135.8L191.1 135.3L191.2 134.9L191.4 134.4L191.5 133.9L191.7 133.5L191.8 133.0L191.9 132.8L192.0 132.5L192.1 132.0L192.3 131.5L192.4 131.0L192.6 130.5L192.7 130.0L192.8 129.5L193.0 129.0L193.1 128.5L193.3 128.0L193.4 127.4L193.6 126.9L193.7 126.4L193.8 126.0L193.9 125.8L194.0 125.3L194.1 124.8L194.3 124.2L194.4 123.7L194.6 123.1L194.7 122.5L194.8 122.4L194.9 122.0L195.0 121.4L195.2 120.8L195.3 120.3L195.4 119.7L195.6 119.1L195.7 118.5L195.9 117.9L196.0 117.3L196.2 116.7L196.3 116.0L196.5 115.4L196.6 114.8L196.7 114.4L196.7 114.2L196.9 113.5L197.0 112.9L197.2 112.2L197.3 111.6L197.5 110.9L197.6 110.2L197.7 110.0L197.8 109.5L197.9 108.9L198.1 108.2L198.2 107.5L198.3 106.8L198.5 106.0L198.6 105.3L198.8 104.6L198.9 103.9L199.1 103.1L199.2 102.4L199.4 101.6L199.5 100.8L199.6 100.3L199.6 100.1L199.8 99.3L199.9 98.5L200.1 97.7L200.2 96.9L200.4 96.0L200.5 95.2L200.6 94.9L200.7 94.4L200.8 93.5L200.9 92.6L201.1 91.8L201.2 90.9L201.4 90.0L201.5 89.1L201.7 88.2L201.8 87.2L202.0 86.3L202.1 85.3L202.2 84.4L202.4 83.4L202.5 82.7L202.5 82.4L202.7 81.4L202.8 80.4L203.0 79.3L203.1 78.3L203.3 77.2L203.4 76.2L203.5 75.8L203.6 75.1L203.7 74.0L203.8 72.8L204.0 71.7L204.1 70.5L204.3 69.4L204.4 68.2L204.6 67.0L204.7 65.7L204.9 64.5L205.0 63.2L205.1 61.9L205.3 60.6L205.4 59.7L205.4 59.3L205.6 58.0L205.7 56.6L205.9 55.2L206.0 53.8L206.2 52.4L206.3 50.9L206.3 50.4L206.4 49.5L206.6 48.0L206.7 46.5L206.9 44.9L207.0 43.4L207.2 41.8L207.3 40.3L207.5 38.7L207.6 37.1L207.7 35.4L207.9 33.8L208.0 32.2L208.2 30.5L208.3 29.4L208.3 28.9L208.5 27.2L208.6 25.6L208.8 24.0L208.9 22.4L209.1 20.8L209.2 19.3L209.2 18.8L209.3 17.8L209.5 16.4L209.6 15.1L209.8 13.8L209.9 12.6L210.1 11.5L210.2 10.6L210.4 9.7L210.5 9.0L210.6 8.5L210.8 8.1L210.9 7.8L211.1 7.7L211.2 7.8L211.2 7.8L211.4 8.1L211.5 8.5L211.7 9.0L211.8 9.7L211.9 10.6L212.1 11.5L212.1 11.9L212.2 12.6L212.4 13.8L212.5 15.1L212.7 16.4L212.8 17.8L213.0 19.3L213.1 20.8L213.2 22.4L213.4 24.0L213.5 25.6L213.7 27.2L213.8 28.9L214.0 30.5L214.1 31.6L214.1 32.2L214.3 33.8L214.4 35.4L214.6 37.1L214.7 38.7L214.8 40.3L215.0 41.8L215.0 42.4L215.1 43.4L215.3 44.9L215.4 46.5L215.6 48.0L215.7 49.5L215.9 50.9L216.0 52.4L216.1 53.8L216.3 55.2L216.4 56.6L216.6 58.0L216.7 59.3L216.9 60.6L217.0 61.5L217.0 61.9L217.2 63.2L217.3 64.5L217.4 65.7L217.6 67.0L217.7 68.2L217.9 69.4L217.9 69.7L218.0 70.5L218.2 71.7L218.3 72.8L218.5 74.0L218.6 75.1L218.8 76.2L218.9 77.2L219.0 78.3L219.2 79.3L219.3 80.4L219.5 81.4L219.6 82.4L219.8 83.4L219.9 84.1L219.9 84.4L220.1 85.3L220.2 86.3L220.3 87.2L220.5 88.2L220.6 89.1L220.8 90.0L220.8 90.3L220.9 90.9L221.1 91.8L221.2 92.6L221.4 93.5L221.5 94.4L221.6 95.2L221.8 96.0L221.9 96.9L222.1 97.7L222.2 98.5L222.4 99.3L222.5 100.1L222.7 100.8L222.8 101.3L222.8 101.6L222.9 102.4L223.1 103.1L223.2 103.9L223.4 104.6L223.5 105.3L223.7 106.0L223.7 106.3L223.8 106.8L224.0 107.5L224.1 108.2L224.3 108.9L224.4 109.5L224.5 110.2L224.7 110.9L224.8 111.6L225.0 112.2L225.1 112.9L225.3 113.5L225.4 114.2L225.6 114.8L225.7 115.2L225.7 115.4L225.8 116.0L226.0 116.7L226.1 117.3L226.3 117.9L226.4 118.5L226.6 119.1L226.6 119.3L226.7 119.7L226.9 120.3L227.0 120.8L227.1 121.4L227.3 122.0L227.4 122.5L227.6 123.1L227.7 123.7L227.9 124.2L228.0 124.8L228.2 125.3L228.3 125.8L228.4 126.4L228.5 126.7L228.6 126.9L228.7 127.4L228.9 128.0L229.0 128.5L229.2 129.0L229.3 129.5L229.5 130.0L229.5 130.2L229.6 130.5L229.8 131.0L229.9 131.5L230.0 132.0L230.2 132.5L230.3 133.0L230.5 133.5L230.6 133.9L230.8 134.4L230.9 134.9L231.1 135.3L231.2 135.8L231.3 136.3L231.4 136.6L231.5 136.7L231.6 137.2L231.8 137.6L231.9 138.1L232.1 138.5L232.2 139.0L232.4 139.4L232.4 139.6L232.5 139.9L232.6 140.3L232.8 140.7L233.4 142.4L234.3 145.2L235.3 147.8L236.3 150.3L237.2 152.8L238.2 155.1L239.2 157.4L240.1 159.6L241.1 161.7L242.1 163.8L243.0 165.8L244.0 167.7L244.9 169.6L245.9 171.4L246.9 173.2L247.8 175.0L248.8 176.6L249.8 178.3L250.7 179.9L251.7 181.5L252.7 183.0L253.6 184.5L254.6 186.0L255.6 187.4L256.5 188.8L257.5 190.2L258.5 191.5L259.4 192.9L260.4 194.2L261.4 195.4L262.3 196.7L263.3 197.9L264.2 199.1L265.2 200.3L266.2 201.4L267.1 202.6L268.1 203.7L269.1 204.8L270.0 205.9L271.0 206.9L272.0 208.0L272.9 209.0L273.9 210.0L274.9 211.0L275.8 212.0L276.8 213.0L277.8 213.9L278.7 214.9L279.7 215.8L280.7 216.7L281.6 217.6L282.6 218.5L283.6 219.4L284.5 220.3L285.5 221.1L286.4 222.0L287.4 222.8L288.4 223.6L289.3 224.4L290.3 225.2L291.3 226.0L292.2 226.8L293.2 227.6L294.2 228.4L295.1 229.1L296.1 229.9L297.1 230.6L298.0 231.3L299.0 232.1L300.0 232.8L300.9 233.5L301.9 234.2L302.8 234.9L303.8 235.6L304.8 236.3L305.7 236.9L306.7 237.6L307.7 238.3L308.6 238.9L309.6 239.6L310.6 240.2L311.5 240.8L312.5 241.5L313.5 242.1L314.4 242.7L315.4 243.3L316.4 243.9L317.3 244.5L318.3 245.1L319.3 245.7L320.2 246.3L321.2 246.8L322.1 247.4L323.1 248.0L324.1 248.6L325.0 249.1L326.0 249.7L327.0 250.2L327.9 250.8L328.9 251.3L329.9 251.8L330.8 252.4L331.8 252.9" stroke="#0033ff"/>
<g>
<path d="M114.67 232.92L118.50 239.45L110.85 239.45Z" fill="#0033ff"/>
<path d="M129.15 222.42L132.98 228.95L125.32 228.95Z" fill="#0033ff"/>
<path d="M143.63 209.82L147.45 216.35L139.80 216.35Z" fill="#0033ff"/>
<path d="M150.86 202.72L154.69 209.25L147.03 209.25Z" fill="#0033ff"/>
<path d="M158.10 194.42L161.93 200.95L154.27 200.95Z" fill="#0033ff"/>
<path d="M172.57 172.42L176.40 178.95L168.75 178.95Z" fill="#0033ff"/>
<path d="M187.05 141.82L190.88 148.35L183.22 148.35Z" fill="#0033ff"/>
<path d="M201.53 83.92L205.35 90.44L197.70 90.44Z" fill="#0033ff"/>
<path d="M216.00 47.82L219.83 54.34L212.17 54.34Z" fill="#0033ff"/>
<path d="M223.24 99.22L227.07 105.74L219.41 105.74Z" fill="#0033ff"/>
<path d="M230.47 128.12L234.30 134.65L226.65 134.65Z" fill="#0033ff"/>
<path d="M244.95 164.12L248.78 170.65L241.12 170.65Z" fill="#0033ff"/>
<path d="M259.43 186.92L263.25 193.45L255.60 193.45Z" fill="#0033ff"/>
</g>
<g stroke="#000" stroke-width="0.9" fill="none">
<rect x="42.3" y="1.7" width="289.50" height="263.10"/>
<path d="M78.49 264.8v-5.1M78.49 1.7v5.1M114.67 264.8v-10.5M114.67 1.7v10.5M150.86 264.8v-5.1M150.86 1.7v5.1M187.05 264.8v-10.5M187.05 1.7v10.5M223.24 264.8v-5.1M223.24 1.7v5.1M259.43 264.8v-10.5M259.43 1.7v10.5M295.61 264.8v-5.1M295.61 1.7v5.1M42.3 242.03h5.1M331.8 242.03h-5.1M42.3 228.71h5.1M331.8 228.71h-5.1M42.3 219.25h5.1M331.8 219.25h-5.1M42.3 211.92h5.1M331.8 211.92h-5.1M42.3 205.93h5.1M331.8 205.93h-5.1M42.3 200.87h5.1M331.8 200.87h-5.1M42.3 196.48h5.1M331.8 196.48h-5.1M42.3 192.61h5.1M331.8 192.61h-5.1M42.3 189.15h10.5M331.8 189.15h-10.5M42.3 166.38h5.1M331.8 166.38h-5.1M42.3 153.06h5.1M331.8 153.06h-5.1M42.3 143.60h5.1M331.8 143.60h-5.1M42.3 136.27h5.1M331.8 136.27h-5.1M42.3 130.28h5.1M331.8 130.28h-5.1M42.3 125.22h5.1M331.8 125.22h-5.1M42.3 120.83h5.1M331.8 120.83h-5.1M42.3 116.96h5.1M331.8 116.96h-5.1M42.3 113.50h10.5M331.8 113.50h-10.5M42.3 90.73h5.1M331.8 90.73h-5.1M42.3 77.41h5.1M331.8 77.41h-5.1M42.3 67.95h5.1M331.8 67.95h-5.1M42.3 60.62h5.1M331.8 60.62h-5.1M42.3 54.63h5.1M331.8 54.63h-5.1M42.3 49.57h5.1M331.8 49.57h-5.1M42.3 45.18h5.1M331.8 45.18h-5.1M42.3 41.31h5.1M331.8 41.31h-5.1M42.3 37.85h10.5M331.8 37.85h-10.5M42.3 15.08h5.1M331.8 15.08h-5.1"/>
</g>
<text class="t" x="37.4" y="42.85" text-anchor="end">10</text>
<text class="t" x="38.2" y="118.50" text-anchor="end">1</text>
<text class="t" x="38.2" y="194.15" text-anchor="end">0.1</text>
<text class="t" x="38.2" y="269.80" text-anchor="end">0.01</text>
<text class="t" x="42.20" y="280.2" text-anchor="middle">2.5</text>
<text class="t" x="114.58" y="280.2" text-anchor="middle">3</text>
<text class="t" x="186.95" y="280.2" text-anchor="middle">3.5</text>
<text class="t" x="259.32" y="280.2" text-anchor="middle">4</text>
<text class="t" x="331.70" y="280.2" text-anchor="middle">4.5</text>
<text class="a" x="187.7" y="294.8" text-anchor="middle"><tspan font-style="italic">x</tspan> (bohr)</text>
<text class="a" transform="translate(17.0 133.5) rotate(-90)" text-anchor="middle">∂/∂<tspan font-style="italic">x</tspan> (bohr<tspan font-size="11px" dy="-7.6">-1</tspan><tspan dy="7.6" dx="1">)</tspan></text>
<rect x="232" y="28.4" width="88.2" height="73.8" fill="#fff" stroke="#000" stroke-width="0.85"/>
<circle cx="247.70" cy="39.40" r="3.55" fill="#000000"/>
<text class="l" x="267" y="42.50">y=0</text>
<rect x="244.55" y="53.25" width="6.3" height="6.3" fill="#ff0000"/>
<text class="l" x="267" y="59.60">y=0.5</text>
<path d="M247.70 69.95L251.55 73.80L247.70 77.65L243.85 73.80Z" fill="#55ff00"/>
<text class="l" x="267" y="76.70">y=1</text>
<path d="M247.70 86.65L251.53 93.17L243.87 93.17Z" fill="#0033ff"/>
<text class="l" x="267" y="93.70">y=2 bohr</text>
</svg></body></html>
